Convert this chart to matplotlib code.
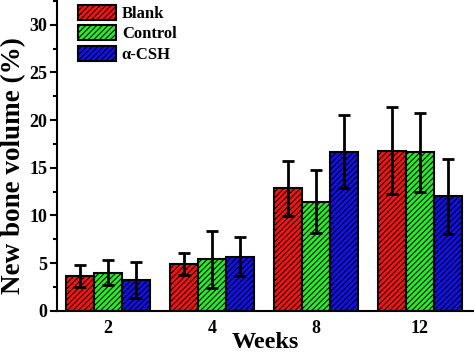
import matplotlib
matplotlib.use("Agg")
import matplotlib.pyplot as plt
import numpy as np

plt.rcParams['font.family'] = ['Liberation Serif', 'DejaVu Serif']
plt.rcParams['font.weight'] = 'bold'
plt.rcParams['hatch.linewidth'] = 0.8

weeks = ['2', '4', '8', '12']
groups = ['Blank', 'Control', 'α-CSH']
blank = [3.6, 4.9, 12.85, 16.8]
blank_err = [1.15, 1.2, 2.9, 4.6]
control = [4.0, 5.4, 11.45, 16.6]
control_err = [1.3, 3.0, 3.3, 4.1]
csh = [3.2, 5.65, 16.7, 12.0]
csh_err = [1.9, 2.05, 3.85, 3.95]
colors = ['#ff1010', '#22f022', '#1010f0']

fig = plt.figure(figsize=(4.74, 3.55), dpi=100)
ax = fig.add_axes([57/474, 44.3/355, 1 - 57/474, 1 - 44.3/355])

x = np.arange(len(weeks))
w = 0.27
series = [(blank, blank_err), (control, control_err), (csh, csh_err)]
for i, ((vals, errs), lab, c) in enumerate(zip(series, groups, colors)):
    ax.bar(x + (i - 1) * w, vals, w, color=c, edgecolor='black', linewidth=1.5,
           hatch='//////', label=lab, zorder=2)
    ax.errorbar(x + (i - 1) * w, vals, yerr=errs, fmt='none', ecolor='black',
                elinewidth=2, capsize=4, capthick=2, zorder=3)

ax.set_xlim(-0.49, 3.52)
ax.set_ylim(0, 32.6)
ax.set_xticks(x)
ax.set_xticklabels(weeks, fontsize=13, fontweight='bold')
ax.set_yticks([0, 5, 10, 15, 20, 25, 30])
ax.set_yticklabels(['0', '5', '10', '15', '20', '25', '30'], fontsize=13, fontweight='bold')
ax.set_yticks(np.arange(2.5, 32.6, 5), minor=True)
ax.tick_params(axis='y', which='major', direction='out', length=5, width=1.5, pad=2)
ax.tick_params(axis='y', which='minor', direction='out', length=3, width=1.5)
ax.tick_params(axis='x', length=0, pad=7)
for s in ['top', 'right']:
    ax.spines[s].set_visible(False)
for s in ['left', 'bottom']:
    ax.spines[s].set_linewidth(1.5)

fig.text(14/474, 1 - 166/355, 'New bone volume (%)', rotation=90, ha='center', va='center',
         fontsize=19.5, fontweight='bold')
ax.set_xlabel('Weeks', fontsize=17.5, fontweight='bold', labelpad=-4)

leg = ax.legend(loc='upper left', bbox_to_anchor=(76/474, 1 - 3/355), bbox_transform=fig.transFigure,
                frameon=False, fontsize=12, handlelength=2.3, handleheight=1.0,
                labelspacing=0.2, handletextpad=0.35, borderpad=0.1, borderaxespad=0)
for t in leg.get_texts():
    t.set_fontweight('bold')

fig.savefig('out.png', dpi=100)
